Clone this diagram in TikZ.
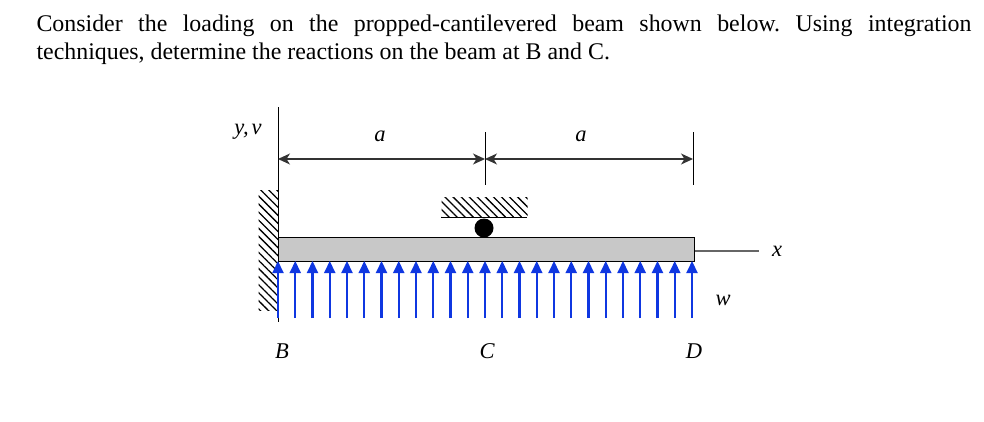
\documentclass[tikz,border=0pt]{standalone}
\usepackage{fontspec}
\setmainfont{Liberation Serif}
\usetikzlibrary{positioning}
\usetikzlibrary{arrows.meta}
\usetikzlibrary{patterns.meta}

\begin{document}
\begin{tikzpicture}[x=1pt,y=-1pt,line width=1pt,>={Stealth[length=12pt,width=11pt,inset=3.5pt]},
	dim line/.style={<->,line width=1.2pt,black!80},
	load line/.style={-{Triangle[length=12pt,width=11pt]},line width=2.1pt,loadblue},
	hatch box/.style={inner sep=0pt,minimum width=#1,pattern={Lines[angle=-45,distance=5.7pt,line width=1.3pt]}},
	main label/.style={font=\fontsize{22.5}{26}\selectfont\itshape,inner sep=0pt}]
	
	\definecolor{loadblue}{RGB}{15,55,225}
	\definecolor{beamgray}{RGB}{200,200,200}
	
	\useasboundingbox (0,0) rectangle (984,421);
	
	\node[anchor=north west,inner sep=0pt,text width=935pt,align=justify,font=\fontsize{23.9}{28.6}\selectfont] (problem) at (36,14)
	{\frenchspacing Consider the loading on the propped-cantilevered beam shown below. Using integration\linebreak techniques, determine the reactions on the beam at B and C.};
	
	% wall and top support
	\node[hatch box=20pt,minimum height=120pt,anchor=north west] (wall) at (258,190) {};
	\node[hatch box=86pt,minimum height=20pt,anchor=north west] (support) at (441,197) {};
	\node[circle,fill=black,inner sep=0pt,minimum size=19pt] (ball) at (484,228) {};
	\node[draw,line width=1.3pt,fill=beamgray,inner sep=0pt,minimum width=416pt,minimum height=24pt,anchor=north west] (beam) at (278,237) {};
	
	\coordinate (top B) at (278,107);
	\coordinate (bot B) at (278,322);
	\coordinate (top C) at (485,132);
	\coordinate (bot C) at (485,185);
	\coordinate (top D) at (693,132);
	\coordinate (bot D) at (693,185);
	\coordinate (dim B) at (278,159);
	\coordinate (dim C) at (485,159);
	\coordinate (dim D) at (693,159);
	\coordinate (x start) at (695,251);
	\coordinate (x end) at (759,251);
	\coordinate (sup left) at (441,217);
	\coordinate (sup right) at (527,217);
	
	\draw (top B) -- (bot B);
	\draw (top C) -- (bot C);
	\draw (top D) -- (bot D);
	\draw[dim line] (dim B) -- (dim C);
	\draw[dim line] (dim C) -- (dim D);
	\draw (sup left) -- (sup right);
	\draw[black!60,line width=1.4pt] (x start) -- (x end);
	
	\foreach \i in {0,...,24}
	{
		\coordinate (load top \i) at (278+17.25*\i,261);
		\coordinate (load bot \i) at (278+17.25*\i,318);
		\draw[load line] (load bot \i) -- (load top \i);
	}
	
	\node[main label] (yv) at (248,132) {y,\kern3pt v};
	\node[main label] (a1) at (380,136) {a};
	\node[main label] (a2) at (581,136) {a};
	\node[main label] (x) at (777,251) {x};
	\node[main label] (w) at (723,300) {w};
	\node[main label] (B) at (282,351) {B};
	\node[main label] (C) at (487,351) {C};
	\node[main label] (D) at (694,351) {D};
\end{tikzpicture}
\end{document}
